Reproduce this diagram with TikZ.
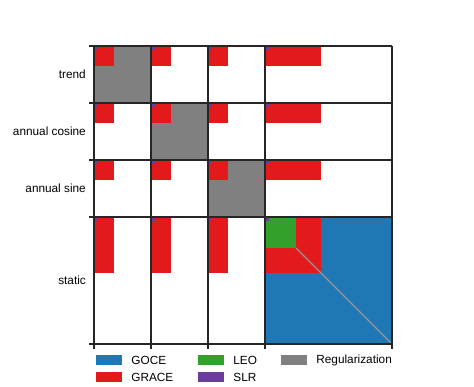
\documentclass[tikz,border=0pt]{standalone}
\usepackage{fontspec}
\setmainfont{Liberation Sans}
\usetikzlibrary{positioning}
\definecolor{goce}{RGB}{31,119,180}
\definecolor{grace}{RGB}{227,26,28}
\definecolor{leo}{RGB}{51,160,44}
\definecolor{slr}{RGB}{106,61,154}
\definecolor{regul}{RGB}{128,128,128}
\definecolor{diagline}{RGB}{150,150,150}

\begin{document}
\begin{tikzpicture}[x=1pt, y=-1pt, font=\fontsize{11.8}{14}\selectfont,
    swatch/.style={minimum width=26pt, minimum height=10pt, inner sep=0pt},
    lbl/.style={anchor=east, inner sep=0pt},
    entry/.style={anchor=west, inner sep=0pt}]
    \useasboundingbox (0,0) rectangle (474,387);

    % Regularization on the diagonal blocks
    \foreach \a/\b in {94/46, 151/103, 208/160}
        \fill[regul] (\a,\b) rectangle ++(57,57);

    % GRACE
    \foreach \a in {94,151,208}
        \foreach \b in {46,103,160}
            \fill[grace] (\a,\b) rectangle ++(20,20);
    \foreach \b in {46,103,160}
        \fill[grace] (265,\b) rectangle ++(56,20);
    \foreach \a in {94,151,208}
        \fill[grace] (\a,217) rectangle ++(20,56);

    % Static block
    \fill[goce] (265,217) rectangle (392,344);
    \fill[grace] (265,217) rectangle (321,273);
    \fill[leo] (265,217) rectangle (296,248);
    \draw[diagline, line width=1.3pt] (296,248) -- (392,344);

    % SLR
    \foreach \a in {94,151,208,265}
        \foreach \b in {46,103,160,217}
            \fill[slr] (\a,\b) rectangle ++(4,4);

    % Grid and ticks
    \foreach \a in {94,151,208,265,392}
        \draw[black!85, line width=1.1pt] (\a,46) -- (\a,349);
    \foreach \b in {46,103,160,217,344}
        \draw[black!85, line width=1.1pt] (89,\b) -- (392,\b);

    % Row labels
    \node[lbl] (trend) at (86,74) {trend};
    \node[lbl] (anncos) at (86,131) {annual cosine};
    \node[lbl] (annsin) at (86,188) {annual sine};
    \node[lbl] (static) at (86,280) {static};

    % Legend
    \node[swatch, fill=goce] (goceSw) at (109,360) {};
    \node[entry, right=9pt of goceSw] (goceTxt) {GOCE};
    \node[swatch, fill=grace] (graceSw) at (109,377) {};
    \node[entry, right=9pt of graceSw] (graceTxt) {GRACE};
    \node[swatch, fill=leo] (leoSw) at (211,360) {};
    \node[entry, right=9pt of leoSw] (leoTxt) {LEO};
    \node[swatch, fill=slr] (slrSw) at (211,377) {};
    \node[entry, right=9pt of slrSw] (slrTxt) {SLR};
    \node[swatch, fill=regul] (regSw) at (294,360) {};
    \node[entry, right=9pt of regSw] (regTxt) {Regularization};
\end{tikzpicture}
\end{document}
